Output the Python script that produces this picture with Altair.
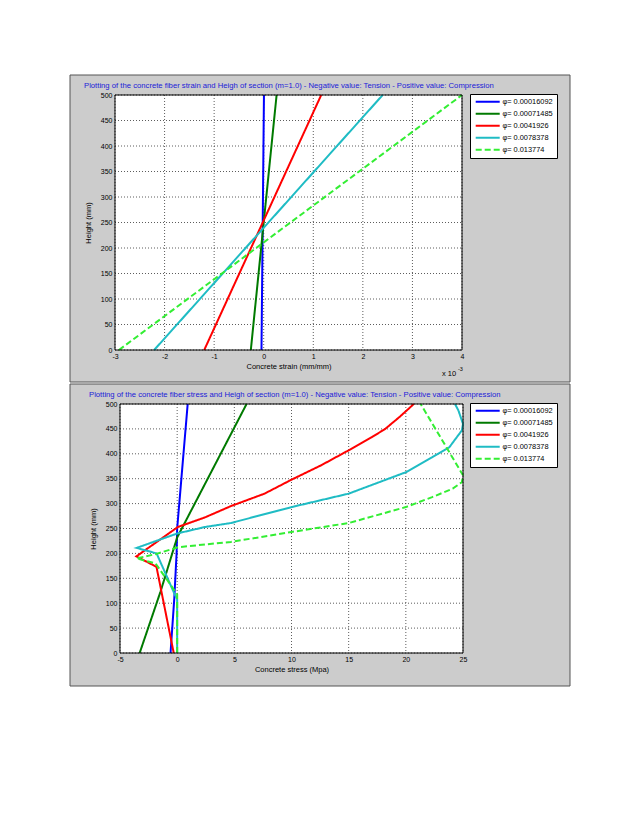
import altair as alt
import pandas as pd

FONT = "Liberation Sans"

series = ["φ= 0.00016092", "φ= 0.00071485", "φ= 0.0041926", "φ= 0.0078378", "φ= 0.013774"]
colors = ["#0000ff", "#007a00", "#ff0000", "#1fbcc4", "#33ee33"]
dashes = [[1, 0], [1, 0], [1, 0], [1, 0], [6, 3]]

# ---- top chart: strain (mm/mm) vs height (mm)
strain_heights = [0, 500]
strain_s1 = [-0.000045, 0.000005]
strain_s2 = [-0.00026, 0.00026]
strain_s3 = [-0.00120, 0.00116]
strain_s4 = [-0.00221, 0.00240]
strain_s5 = [-0.00292, 0.00400]
strain_xticks = [-0.003, -0.002, -0.001, 0.0, 0.001, 0.002, 0.003, 0.004]

# ---- bottom chart: stress (MPa) vs height (mm)
stress_s1 = [-0.58, -0.25, -0.05, 0.0, 0.92]
height_s1 = [0, 110, 200, 250, 500]
stress_s2 = [-3.28, -1.46, 0.0, 6.07]
height_s2 = [0, 123, 232, 500]
stress_s3 = [-0.3, -1.81, -3.57, 0.06, 2.4, 4.7, 7.64, 10.0, 12.6, 15.0, 17.0, 18.2, 19.5, 20.7]
height_s3 = [0, 173, 194, 253, 272, 295, 320, 348, 377, 407, 433, 450, 475, 500]
stress_s4 = [0.0, 0.0, -0.2, -1.8, -3.55, 0.0, 2.43, 4.7, 10.0, 15.0, 20.0, 22.3, 23.8, 24.9, 25.0, 24.6, 24.3]
height_s4 = [0, 108, 117, 200, 211, 240, 253, 261, 293, 320, 363, 393, 413, 447, 460, 487, 500]
stress_s5 = [0.0, 0.0, -1.9, -3.55, -1.8, 0.0, 2.43, 4.7, 10.0, 15.0, 20.0, 22.3, 24.1, 24.9, 25.0, 21.3]
height_s5 = [0, 118, 180, 190, 199, 212, 218, 223, 243, 261, 293, 313, 330, 343, 357, 500]
stress_xticks = [-5, 0, 5, 10, 15, 20, 25]

yticks = [0, 50, 100, 150, 200, 250, 300, 350, 400, 450, 500]

title_top = "Plotting of the concrete fiber strain and Heigh of section (m=1.0) - Negative value: Tension - Positive value: Compression"
title_bot = "Plotting of the concrete fiber stress and Heigh of section (m=1.0) - Negative value: Tension - Positive value: Compression"


def build_df(xs_list, ys_list):
    rows = []
    for name, xs, ys in zip(series, xs_list, ys_list):
        for i, (x, y) in enumerate(zip(xs, ys)):
            rows.append({"series": name, "x": x, "y": y, "i": i})
    return pd.DataFrame(rows)


df_top = build_df([strain_s1, strain_s2, strain_s3, strain_s4, strain_s5], [strain_heights] * 5)
df_bot = build_df([stress_s1, stress_s2, stress_s3, stress_s4, stress_s5],
                  [height_s1, height_s2, height_s3, height_s4, height_s5])

one = pd.DataFrame({"a": [0]})


def panel(df, xdomain, xticks, xlabel_expr, xtitle, title, vis_width, height, inset,
          box_bottom, legend_x, extra=None):
    # the plot area is `inset` px wider on the left than the visible frame,
    # so that both panels share the same origin in the concat layout
    width = vis_width + inset
    span = xdomain[1] - xdomain[0]
    dmin = xdomain[0] - span * inset / vis_width
    xscale = alt.Scale(domain=[dmin, xdomain[1]], nice=False, zero=False)
    yscale = alt.Scale(domain=[0, 500], nice=False, zero=False)
    xaxis = alt.Axis(values=xticks, labelExpr=xlabel_expr, title=xtitle, labelFlush=False,
                     labelOverlap=False, labelPadding=2, titlePadding=3, zindex=1,
                     titleX=inset + vis_width / 2)
    yaxis = alt.Axis(values=yticks, labelExpr="'' + datum.value", title="Height (mm)",
                     labelFlush=False, labelOverlap=False, labelPadding=3 - inset, titlePadding=8, zindex=1)

    bg = alt.Chart(one).mark_rect(fill="#cccccc", stroke="#555555", strokeWidth=1).encode(
        x=alt.value(-45), x2=alt.value(455), y=alt.value(-20), y2=alt.value(box_bottom))
    plotbg = alt.Chart(one).mark_rect(fill="white").encode(
        x=alt.value(inset), x2=alt.value(width), y=alt.value(0), y2=alt.value(height))
    vgrid = alt.Chart(pd.DataFrame({"v": xticks})).mark_rule(
        strokeDash=[1, 2], color="#333333", strokeWidth=0.8).encode(
        x=alt.X("v:Q", scale=xscale, axis=xaxis))
    hgrid = alt.Chart(pd.DataFrame({"h": yticks})).mark_rule(
        strokeDash=[1, 2], color="#333333", strokeWidth=0.8).encode(
        y=alt.Y("h:Q", scale=yscale, axis=yaxis), x=alt.value(inset), x2=alt.value(width))
    legend = alt.Legend(title=None, orient="none", legendX=legend_x, legendY=-1,
                        fillColor="white", strokeColor="black", padding=4,
                        symbolType="M-6,0H6", symbolSize=16, symbolStrokeWidth=2,
                        symbolOffset=10, labelOffset=11, rowPadding=3,
                        labelFont=FONT, labelFontSize=7.4, labelColor="black", zindex=2)
    lines = alt.Chart(df).mark_line(strokeWidth=2).encode(
        x=alt.X("x:Q", scale=xscale, axis=xaxis),
        y=alt.Y("y:Q", scale=yscale, axis=yaxis),
        color=alt.Color("series:N", scale=alt.Scale(domain=series, range=colors), legend=legend),
        strokeDash=alt.StrokeDash("series:N", scale=alt.Scale(domain=series, range=dashes), legend=legend),
        order=alt.Order("i:Q"),
    )
    border = alt.Chart(one).mark_rect(fill=None, stroke="black", strokeWidth=1).encode(
        x=alt.value(inset), x2=alt.value(width), y=alt.value(0), y2=alt.value(height))
    ttl = alt.Chart(pd.DataFrame({"t": [title]})).mark_text(
        align="left", baseline="middle", font=FONT, fontSize=7.7, color="#2020d8").encode(
        x=alt.value(inset - 31), y=alt.value(-9), text="t:N")
    layers = [bg, plotbg, vgrid, hgrid, lines, border, ttl]
    if extra is not None:
        layers += extra
    return alt.layer(*layers).properties(width=width, height=height)


exp_main = alt.Chart(pd.DataFrame({"t": ["x 10"]})).mark_text(
    align="left", baseline="middle", font=FONT, fontSize=7.5, color="black").encode(
    x=alt.value(327), y=alt.value(279), text="t:N")
exp_sup = alt.Chart(pd.DataFrame({"t": ["-3"]})).mark_text(
    align="left", baseline="middle", font=FONT, fontSize=5.5, color="black").encode(
    x=alt.value(343), y=alt.value(274), text="t:N")

top = panel(df_top, [-0.003, 0.004], strain_xticks, "'' + round(datum.value * 1000)",
            "Concrete strain (mm/mm)", title_top, 347, 255, 0, 287, 355,
            extra=[exp_main, exp_sup])
bot = panel(df_bot, [-5, 25], stress_xticks, "'' + datum.value",
            "Concrete stress (Mpa)", title_bot, 343, 249, 5, 282, 355)

chart = alt.vconcat(top, bot, spacing=0).resolve_scale(
    color="independent", strokeDash="independent"
).resolve_legend(
    color="independent", strokeDash="independent"
).properties(
    padding={"left": 61, "top": 66, "right": 5, "bottom": 5},
    background="white",
).configure_view(stroke=None).configure_axis(
    labelFont=FONT, labelFontSize=7, labelColor="black",
    titleFont=FONT, titleFontSize=7.5, titleFontWeight="normal", titleColor="black",
    domain=False, ticks=False, grid=False,
)

chart.save("out.html", embed_options={"renderer": "svg", "actions": False})
